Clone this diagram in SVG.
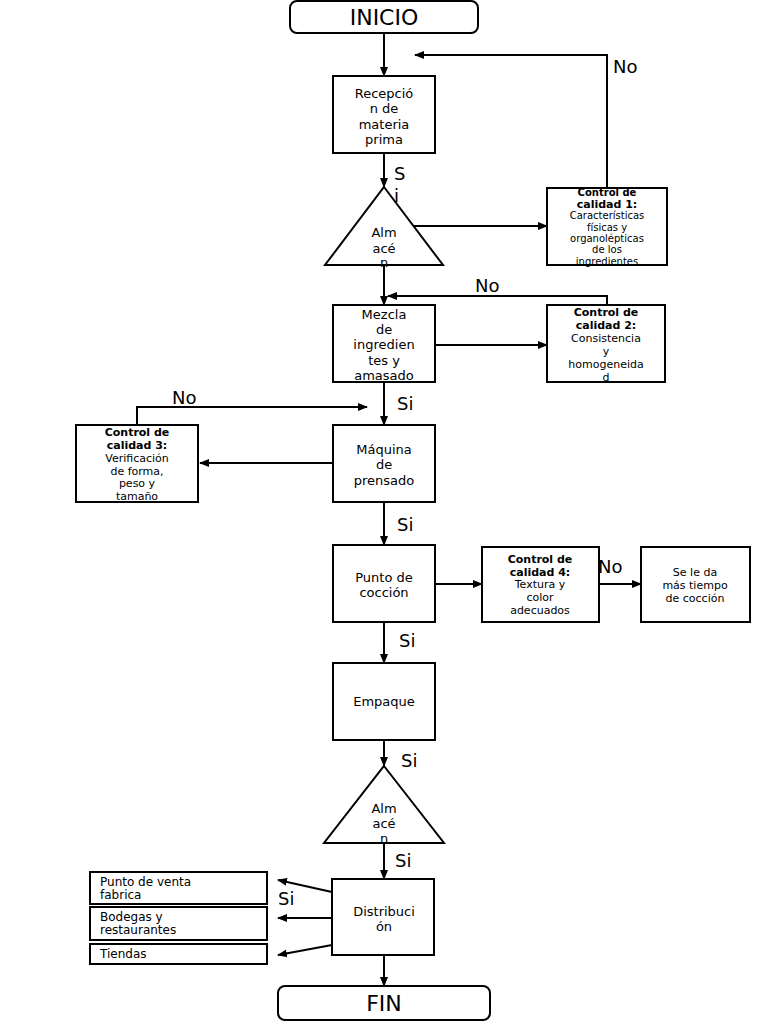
<svg xmlns="http://www.w3.org/2000/svg" width="768" height="1024" viewBox="0 0 768 1024">
<style>
.b{fill:#fff;stroke:#000;stroke-width:2}
text{font-family:"DejaVu Sans",sans-serif;fill:#000;text-anchor:middle;dominant-baseline:central}
.m{font-size:13px}.s{font-size:11px}.x{font-size:10px}.bd{font-weight:bold}
.l{font-size:18px;text-anchor:start}
.t{font-size:12px;text-anchor:start}
.c{stroke:#000;stroke-width:2;fill:none;marker-end:url(#a)}
</style>
<defs><marker id="a" viewBox="0 0 10 10" refX="9" refY="5" markerWidth="5" markerHeight="5" orient="auto"><path d="M0,1 L10,5 L0,9 z" fill="#000"/></marker></defs>
<rect width="768" height="1024" fill="#fff"/>
<g id="connectors">
<path class="c" d="M384,33V76"/>
<path class="c" d="M384,153V187"/>
<path class="c" d="M413,226H547"/>
<path class="c" d="M607,188V55H415"/>
<path class="c" d="M384,265V305"/>
<path class="c" d="M435,345H547"/>
<path class="c" d="M607,305V296H388"/>
<path class="c" d="M384,382V425"/>
<path class="c" d="M333,463H200"/>
<path class="c" d="M137,425V407H367"/>
<path class="c" d="M384,502V545"/>
<path class="c" d="M435,584H482"/>
<path class="c" d="M599,584H641"/>
<path class="c" d="M384,622V663"/>
<path class="c" d="M384,740V766"/>
<path class="c" d="M384,843V879"/>
<path class="c" d="M332,892L278,880"/>
<path class="c" d="M332,918H278"/>
<path class="c" d="M332,945L278,955"/>
<path class="c" d="M384,955V986"/>
<text class="l" x="613" y="66">No</text>
<text class="l" x="394" y="173">S</text>
<text class="l" x="394" y="195">i</text>
<text class="l" x="475" y="285">No</text>
<text class="l" x="397" y="403">Si</text>
<text class="l" x="172" y="397">No</text>
<text class="l" x="397" y="524">Si</text>
<text class="l" x="598" y="566">No</text>
<text class="l" x="399" y="640">Si</text>
<text class="l" x="401" y="760">Si</text>
<text class="l" x="395" y="860">Si</text>
<text class="l" x="278" y="898">Si</text>
</g>
<g id="inicio"><rect class="b" x="290" y="1" width="188" height="32" rx="7"/><text x="384" y="17" style="font-size:22px">INICIO</text></g>
<g id="recepcion"><rect class="b" x="333" y="76" width="102" height="77"/><text class="m" x="384" y="93">Recepció</text><text class="m" x="384" y="108">n de</text><text class="m" x="384" y="124">materia</text><text class="m" x="384" y="139">prima</text></g>
<g id="almacen1"><path class="b" d="M384,187L443,265H325Z"/><text class="m" x="384" y="232">Alm</text><text class="m" x="384" y="248">acé</text><text class="m" x="384" y="262">n</text></g>
<g id="control1"><rect class="b" x="547" y="188" width="120" height="77"/><text class="x bd" x="607" y="192">Control de</text><text class="s bd" x="607" y="204">calidad 1:</text><text class="x" x="607" y="215">Características</text><text class="x" x="607" y="227">físicas y</text><text class="x" x="607" y="238">organolépticas</text><text class="x" x="607" y="249">de los</text><text class="x" x="607" y="261">ingredientes</text></g>
<g id="mezcla"><rect class="b" x="333" y="305" width="102" height="77"/><text class="m" x="384" y="314">Mezcla</text><text class="m" x="384" y="329">de</text><text class="m" x="384" y="344">ingredien</text><text class="m" x="384" y="360">tes y</text><text class="m" x="384" y="375">amasado</text></g>
<g id="control2"><rect class="b" x="547" y="305" width="118" height="77"/><text class="s bd" x="606" y="312">Control de</text><text class="s bd" x="606" y="325">calidad 2:</text><text class="s" x="606" y="338">Consistencia</text><text class="s" x="606" y="351">y</text><text class="s" x="606" y="364">homogeneida</text><text class="s" x="606" y="377">d</text></g>
<g id="maquina"><rect class="b" x="333" y="425" width="102" height="77"/><text class="m" x="384" y="449">Máquina</text><text class="m" x="384" y="464">de</text><text class="m" x="384" y="480">prensado</text></g>
<g id="control3"><rect class="b" x="76" y="425" width="122" height="77"/><text class="s bd" x="137" y="432">Control de</text><text class="s bd" x="137" y="445">calidad 3:</text><text class="s" x="137" y="458">Verificación</text><text class="s" x="137" y="471">de forma,</text><text class="s" x="137" y="483">peso y</text><text class="s" x="137" y="496">tamaño</text></g>
<g id="coccion"><rect class="b" x="333" y="545" width="102" height="77"/><text class="m" x="384" y="577">Punto de</text><text class="m" x="384" y="592">cocción</text></g>
<g id="control4"><rect class="b" x="482" y="547" width="117" height="75"/><text class="s bd" x="540" y="559">Control de</text><text class="s bd" x="540" y="572">calidad 4:</text><text class="s" x="540" y="584">Textura y</text><text class="s" x="540" y="597">color</text><text class="s" x="540" y="610">adecuados</text></g>
<g id="tiempo"><rect class="b" x="641" y="547" width="109" height="75"/><text class="s" x="695" y="572">Se le da</text><text class="s" x="695" y="585">más tiempo</text><text class="s" x="695" y="598">de cocción</text></g>
<g id="empaque"><rect class="b" x="333" y="663" width="102" height="77"/><text class="m" x="384" y="701">Empaque</text></g>
<g id="almacen2"><path class="b" d="M384,766L444,843H324Z"/><text class="m" x="384" y="808">Alm</text><text class="m" x="384" y="823">acé</text><text class="m" x="384" y="838">n</text></g>
<g id="distribucion"><rect class="b" x="332" y="879" width="102" height="76"/><text class="m" x="384" y="911">Distribuci</text><text class="m" x="384" y="926">ón</text></g>
<g id="puntoventa"><rect class="b" x="90" y="872" width="177" height="32"/><text class="t" x="100" y="882">Punto de venta</text><text class="t" x="100" y="895">fabrica</text></g>
<g id="bodegas"><rect class="b" x="90" y="907" width="177" height="33"/><text class="t" x="100" y="917">Bodegas y</text><text class="t" x="100" y="930">restaurantes</text></g>
<g id="tiendas"><rect class="b" x="90" y="944" width="177" height="20"/><text class="t" x="100" y="954">Tiendas</text></g>
<g id="fin"><rect class="b" x="278" y="986" width="212" height="34" rx="7"/><text x="384" y="1003" style="font-size:22px">FIN</text></g>
</svg>
